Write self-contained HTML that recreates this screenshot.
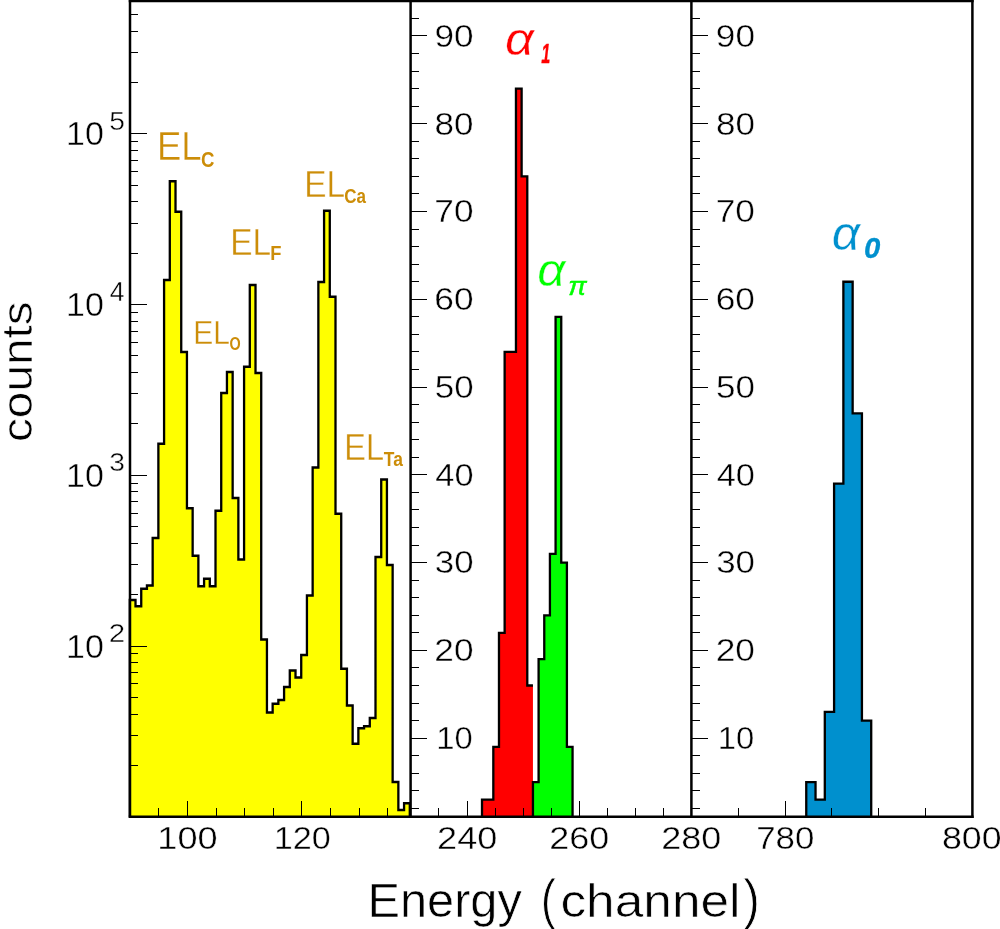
<!DOCTYPE html><html><head><meta charset="utf-8"><title>Energy spectrum</title>
<style>html,body{margin:0;padding:0;background:#fff}svg{display:block}text{font-family:"Liberation Sans",sans-serif;stroke:#fff;stroke-width:0.4px;paint-order:fill stroke}</style></head><body>
<svg width="1000" height="929" viewBox="0 0 1000 929">
<rect width="1000" height="929" fill="#fff"/>
<path d="M129.80,816.70 L129.80,600.00 L135.51,600.00 L135.51,606.25 L141.23,606.25 L141.23,588.75 L146.94,588.75 L146.94,585.50 L152.66,585.50 L152.66,538.00 L158.37,538.00 L158.37,443.75 L164.08,443.75 L164.08,280.00 L169.80,280.00 L169.80,181.25 L175.51,181.25 L175.51,211.75 L181.23,211.75 L181.23,352.00 L186.94,352.00 L186.94,508.25 L192.65,508.25 L192.65,555.75 L198.37,555.75 L198.37,586.25 L204.08,586.25 L204.08,578.75 L209.80,578.75 L209.80,586.25 L215.51,586.25 L215.51,510.75 L221.22,510.75 L221.22,393.00 L226.94,393.00 L226.94,372.00 L232.65,372.00 L232.65,498.00 L238.37,498.00 L238.37,559.50 L244.08,559.50 L244.08,366.75 L249.79,366.75 L249.79,285.00 L255.51,285.00 L255.51,373.00 L261.22,373.00 L261.22,639.50 L266.94,639.50 L266.94,712.50 L272.65,712.50 L272.65,703.75 L278.36,703.75 L278.36,700.00 L284.08,700.00 L284.08,687.00 L289.79,687.00 L289.79,670.50 L295.51,670.50 L295.51,677.50 L301.22,677.50 L301.22,655.00 L306.93,655.00 L306.93,595.50 L312.65,595.50 L312.65,467.50 L318.36,467.50 L318.36,282.00 L324.08,282.00 L324.08,210.75 L329.79,210.75 L329.79,296.75 L335.50,296.75 L335.50,513.75 L341.22,513.75 L341.22,668.75 L346.93,668.75 L346.93,705.50 L352.65,705.50 L352.65,743.75 L358.36,743.75 L358.36,728.25 L364.07,728.25 L364.07,726.25 L369.79,726.25 L369.79,718.00 L375.50,718.00 L375.50,557.00 L381.22,557.00 L381.22,479.50 L386.93,479.50 L386.93,565.00 L392.64,565.00 L392.64,782.00 L398.36,782.00 L398.36,810.00 L404.07,810.00 L404.07,803.25 L409.79,803.25 L409.79,816.70 Z" fill="#ffff00" stroke="none"/>
<path d="M129.80,816.70 L129.80,600.00 L135.51,600.00 L135.51,606.25 L141.23,606.25 L141.23,588.75 L146.94,588.75 L146.94,585.50 L152.66,585.50 L152.66,538.00 L158.37,538.00 L158.37,443.75 L164.08,443.75 L164.08,280.00 L169.80,280.00 L169.80,181.25 L175.51,181.25 L175.51,211.75 L181.23,211.75 L181.23,352.00 L186.94,352.00 L186.94,508.25 L192.65,508.25 L192.65,555.75 L198.37,555.75 L198.37,586.25 L204.08,586.25 L204.08,578.75 L209.80,578.75 L209.80,586.25 L215.51,586.25 L215.51,510.75 L221.22,510.75 L221.22,393.00 L226.94,393.00 L226.94,372.00 L232.65,372.00 L232.65,498.00 L238.37,498.00 L238.37,559.50 L244.08,559.50 L244.08,366.75 L249.79,366.75 L249.79,285.00 L255.51,285.00 L255.51,373.00 L261.22,373.00 L261.22,639.50 L266.94,639.50 L266.94,712.50 L272.65,712.50 L272.65,703.75 L278.36,703.75 L278.36,700.00 L284.08,700.00 L284.08,687.00 L289.79,687.00 L289.79,670.50 L295.51,670.50 L295.51,677.50 L301.22,677.50 L301.22,655.00 L306.93,655.00 L306.93,595.50 L312.65,595.50 L312.65,467.50 L318.36,467.50 L318.36,282.00 L324.08,282.00 L324.08,210.75 L329.79,210.75 L329.79,296.75 L335.50,296.75 L335.50,513.75 L341.22,513.75 L341.22,668.75 L346.93,668.75 L346.93,705.50 L352.65,705.50 L352.65,743.75 L358.36,743.75 L358.36,728.25 L364.07,728.25 L364.07,726.25 L369.79,726.25 L369.79,718.00 L375.50,718.00 L375.50,557.00 L381.22,557.00 L381.22,479.50 L386.93,479.50 L386.93,565.00 L392.64,565.00 L392.64,782.00 L398.36,782.00 L398.36,810.00 L404.07,810.00 L404.07,803.25 L409.79,803.25 L409.79,816.70" fill="none" stroke="#000" stroke-width="2.3" stroke-linejoin="miter"/>
<path d="M482.00,816.70 L482.00,799.64 L487.66,799.64 L487.66,799.64 L493.32,799.64 L493.32,746.97 L498.98,746.97 L498.98,632.85 L504.64,632.85 L504.64,351.96 L510.30,351.96 L510.30,351.96 L515.96,351.96 L515.96,88.62 L521.62,88.62 L521.62,176.40 L527.28,176.40 L527.28,685.52 L532.94,685.52 L532.94,816.70 Z" fill="#ff0000" stroke="none"/>
<path d="M482.00,816.70 L482.00,799.64 L487.66,799.64 L487.66,799.64 L493.32,799.64 L493.32,746.97 L498.98,746.97 L498.98,632.85 L504.64,632.85 L504.64,351.96 L510.30,351.96 L510.30,351.96 L515.96,351.96 L515.96,88.62 L521.62,88.62 L521.62,176.40 L527.28,176.40 L527.28,685.52 L532.94,685.52" fill="none" stroke="#000" stroke-width="2.3" stroke-linejoin="miter"/>
<path d="M532.94,816.70 L532.94,782.08 L538.60,782.08 L538.60,659.19 L544.26,659.19 L544.26,615.30 L549.92,615.30 L549.92,553.85 L555.58,553.85 L555.58,316.85 L561.24,316.85 L561.24,562.63 L566.90,562.63 L566.90,746.97 L572.56,746.97 L572.56,816.70 Z" fill="#00ff00" stroke="none"/>
<path d="M532.94,816.70 L532.94,782.08 L538.60,782.08 L538.60,659.19 L544.26,659.19 L544.26,615.30 L549.92,615.30 L549.92,553.85 L555.58,553.85 L555.58,316.85 L561.24,316.85 L561.24,562.63 L566.90,562.63 L566.90,746.97 L572.56,746.97 L572.56,816.70" fill="none" stroke="#000" stroke-width="2.3" stroke-linejoin="miter"/>
<path d="M806.25,816.70 L806.25,782.08 L815.53,782.08 L815.53,799.64 L824.81,799.64 L824.81,711.86 L834.09,711.86 L834.09,483.63 L843.37,483.63 L843.37,281.73 L852.65,281.73 L852.65,413.40 L861.93,413.40 L861.93,720.63 L871.21,720.63 L871.21,816.70 Z" fill="#0090ce" stroke="none"/>
<path d="M806.25,816.70 L806.25,782.08 L815.53,782.08 L815.53,799.64 L824.81,799.64 L824.81,711.86 L834.09,711.86 L834.09,483.63 L843.37,483.63 L843.37,281.73 L852.65,281.73 L852.65,413.40 L861.93,413.40 L861.93,720.63 L871.21,720.63 L871.21,816.70" fill="none" stroke="#000" stroke-width="2.3" stroke-linejoin="miter"/>
<g stroke="#000" stroke-width="2.5" fill="none" stroke-linecap="square">
<line x1="130.0" y1="1.1" x2="972.4" y2="1.1"/>
<line x1="130.0" y1="816.7" x2="972.4" y2="816.7"/>
<line x1="130.0" y1="1.1" x2="130.0" y2="816.7"/>
<line x1="410.6" y1="1.1" x2="410.6" y2="816.7"/>
<line x1="691.4" y1="1.1" x2="691.4" y2="816.7"/>
<line x1="972.4" y1="1.1" x2="972.4" y2="816.7"/>
</g>
<g stroke="#000" stroke-width="1.0" fill="none" shape-rendering="crispEdges">
<line x1="130.0" y1="765.40" x2="138.0" y2="765.40"/>
<line x1="130.0" y1="735.33" x2="138.0" y2="735.33"/>
<line x1="130.0" y1="714.00" x2="138.0" y2="714.00"/>
<line x1="130.0" y1="697.45" x2="138.0" y2="697.45"/>
<line x1="130.0" y1="683.93" x2="138.0" y2="683.93"/>
<line x1="130.0" y1="672.50" x2="138.0" y2="672.50"/>
<line x1="130.0" y1="662.60" x2="138.0" y2="662.60"/>
<line x1="130.0" y1="653.86" x2="138.0" y2="653.86"/>
<line x1="130.0" y1="646.05" x2="146.5" y2="646.05"/>
<line x1="130.0" y1="594.65" x2="138.0" y2="594.65"/>
<line x1="130.0" y1="564.58" x2="138.0" y2="564.58"/>
<line x1="130.0" y1="543.25" x2="138.0" y2="543.25"/>
<line x1="130.0" y1="526.70" x2="138.0" y2="526.70"/>
<line x1="130.0" y1="513.18" x2="138.0" y2="513.18"/>
<line x1="130.0" y1="501.75" x2="138.0" y2="501.75"/>
<line x1="130.0" y1="491.85" x2="138.0" y2="491.85"/>
<line x1="130.0" y1="483.11" x2="138.0" y2="483.11"/>
<line x1="130.0" y1="475.30" x2="146.5" y2="475.30"/>
<line x1="130.0" y1="423.90" x2="138.0" y2="423.90"/>
<line x1="130.0" y1="393.83" x2="138.0" y2="393.83"/>
<line x1="130.0" y1="372.50" x2="138.0" y2="372.50"/>
<line x1="130.0" y1="355.95" x2="138.0" y2="355.95"/>
<line x1="130.0" y1="342.43" x2="138.0" y2="342.43"/>
<line x1="130.0" y1="331.00" x2="138.0" y2="331.00"/>
<line x1="130.0" y1="321.10" x2="138.0" y2="321.10"/>
<line x1="130.0" y1="312.36" x2="138.0" y2="312.36"/>
<line x1="130.0" y1="304.55" x2="146.5" y2="304.55"/>
<line x1="130.0" y1="253.15" x2="138.0" y2="253.15"/>
<line x1="130.0" y1="223.08" x2="138.0" y2="223.08"/>
<line x1="130.0" y1="201.75" x2="138.0" y2="201.75"/>
<line x1="130.0" y1="185.20" x2="138.0" y2="185.20"/>
<line x1="130.0" y1="171.68" x2="138.0" y2="171.68"/>
<line x1="130.0" y1="160.25" x2="138.0" y2="160.25"/>
<line x1="130.0" y1="150.35" x2="138.0" y2="150.35"/>
<line x1="130.0" y1="141.61" x2="138.0" y2="141.61"/>
<line x1="130.0" y1="133.80" x2="146.5" y2="133.80"/>
<line x1="130.0" y1="82.40" x2="138.0" y2="82.40"/>
<line x1="130.0" y1="52.33" x2="138.0" y2="52.33"/>
<line x1="130.0" y1="31.00" x2="138.0" y2="31.00"/>
<line x1="130.0" y1="14.45" x2="138.0" y2="14.45"/>
<line x1="158.90" y1="816.7" x2="158.90" y2="808.2"/>
<line x1="187.50" y1="816.7" x2="187.50" y2="801.2"/>
<line x1="216.10" y1="816.7" x2="216.10" y2="808.2"/>
<line x1="244.70" y1="816.7" x2="244.70" y2="808.2"/>
<line x1="273.30" y1="816.7" x2="273.30" y2="808.2"/>
<line x1="301.90" y1="816.7" x2="301.90" y2="801.2"/>
<line x1="330.50" y1="816.7" x2="330.50" y2="808.2"/>
<line x1="359.10" y1="816.7" x2="359.10" y2="808.2"/>
<line x1="387.70" y1="816.7" x2="387.70" y2="808.2"/>
<line x1="438.97" y1="816.7" x2="438.97" y2="808.2"/>
<line x1="467.05" y1="816.7" x2="467.05" y2="801.2"/>
<line x1="495.12" y1="816.7" x2="495.12" y2="808.2"/>
<line x1="523.20" y1="816.7" x2="523.20" y2="808.2"/>
<line x1="551.27" y1="816.7" x2="551.27" y2="808.2"/>
<line x1="579.35" y1="816.7" x2="579.35" y2="801.2"/>
<line x1="607.42" y1="816.7" x2="607.42" y2="808.2"/>
<line x1="635.50" y1="816.7" x2="635.50" y2="808.2"/>
<line x1="663.58" y1="816.7" x2="663.58" y2="808.2"/>
<line x1="738.20" y1="816.7" x2="738.20" y2="808.2"/>
<line x1="785.00" y1="816.7" x2="785.00" y2="801.2"/>
<line x1="831.80" y1="816.7" x2="831.80" y2="808.2"/>
<line x1="878.60" y1="816.7" x2="878.60" y2="808.2"/>
<line x1="925.40" y1="816.7" x2="925.40" y2="808.2"/>
<line x1="410.6" y1="808.41" x2="419.1" y2="808.41"/>
<line x1="410.6" y1="790.86" x2="419.1" y2="790.86"/>
<line x1="410.6" y1="773.30" x2="419.1" y2="773.30"/>
<line x1="410.6" y1="755.75" x2="419.1" y2="755.75"/>
<line x1="410.6" y1="738.19" x2="426.90000000000003" y2="738.19"/>
<line x1="410.6" y1="720.63" x2="419.1" y2="720.63"/>
<line x1="410.6" y1="703.08" x2="419.1" y2="703.08"/>
<line x1="410.6" y1="685.52" x2="419.1" y2="685.52"/>
<line x1="410.6" y1="667.97" x2="419.1" y2="667.97"/>
<line x1="410.6" y1="650.41" x2="426.90000000000003" y2="650.41"/>
<line x1="410.6" y1="632.85" x2="419.1" y2="632.85"/>
<line x1="410.6" y1="615.30" x2="419.1" y2="615.30"/>
<line x1="410.6" y1="597.74" x2="419.1" y2="597.74"/>
<line x1="410.6" y1="580.19" x2="419.1" y2="580.19"/>
<line x1="410.6" y1="562.63" x2="426.90000000000003" y2="562.63"/>
<line x1="410.6" y1="545.07" x2="419.1" y2="545.07"/>
<line x1="410.6" y1="527.52" x2="419.1" y2="527.52"/>
<line x1="410.6" y1="509.96" x2="419.1" y2="509.96"/>
<line x1="410.6" y1="492.41" x2="419.1" y2="492.41"/>
<line x1="410.6" y1="474.85" x2="426.90000000000003" y2="474.85"/>
<line x1="410.6" y1="457.29" x2="419.1" y2="457.29"/>
<line x1="410.6" y1="439.74" x2="419.1" y2="439.74"/>
<line x1="410.6" y1="422.18" x2="419.1" y2="422.18"/>
<line x1="410.6" y1="404.63" x2="419.1" y2="404.63"/>
<line x1="410.6" y1="387.07" x2="426.90000000000003" y2="387.07"/>
<line x1="410.6" y1="369.51" x2="419.1" y2="369.51"/>
<line x1="410.6" y1="351.96" x2="419.1" y2="351.96"/>
<line x1="410.6" y1="334.40" x2="419.1" y2="334.40"/>
<line x1="410.6" y1="316.85" x2="419.1" y2="316.85"/>
<line x1="410.6" y1="299.29" x2="426.90000000000003" y2="299.29"/>
<line x1="410.6" y1="281.73" x2="419.1" y2="281.73"/>
<line x1="410.6" y1="264.18" x2="419.1" y2="264.18"/>
<line x1="410.6" y1="246.62" x2="419.1" y2="246.62"/>
<line x1="410.6" y1="229.07" x2="419.1" y2="229.07"/>
<line x1="410.6" y1="211.51" x2="426.90000000000003" y2="211.51"/>
<line x1="410.6" y1="193.95" x2="419.1" y2="193.95"/>
<line x1="410.6" y1="176.40" x2="419.1" y2="176.40"/>
<line x1="410.6" y1="158.84" x2="419.1" y2="158.84"/>
<line x1="410.6" y1="141.29" x2="419.1" y2="141.29"/>
<line x1="410.6" y1="123.73" x2="426.90000000000003" y2="123.73"/>
<line x1="410.6" y1="106.17" x2="419.1" y2="106.17"/>
<line x1="410.6" y1="88.62" x2="419.1" y2="88.62"/>
<line x1="410.6" y1="71.06" x2="419.1" y2="71.06"/>
<line x1="410.6" y1="53.51" x2="419.1" y2="53.51"/>
<line x1="410.6" y1="35.95" x2="426.90000000000003" y2="35.95"/>
<line x1="410.6" y1="18.39" x2="419.1" y2="18.39"/>
<line x1="691.4" y1="808.41" x2="699.9" y2="808.41"/>
<line x1="691.4" y1="790.86" x2="699.9" y2="790.86"/>
<line x1="691.4" y1="773.30" x2="699.9" y2="773.30"/>
<line x1="691.4" y1="755.75" x2="699.9" y2="755.75"/>
<line x1="691.4" y1="738.19" x2="707.6999999999999" y2="738.19"/>
<line x1="691.4" y1="720.63" x2="699.9" y2="720.63"/>
<line x1="691.4" y1="703.08" x2="699.9" y2="703.08"/>
<line x1="691.4" y1="685.52" x2="699.9" y2="685.52"/>
<line x1="691.4" y1="667.97" x2="699.9" y2="667.97"/>
<line x1="691.4" y1="650.41" x2="707.6999999999999" y2="650.41"/>
<line x1="691.4" y1="632.85" x2="699.9" y2="632.85"/>
<line x1="691.4" y1="615.30" x2="699.9" y2="615.30"/>
<line x1="691.4" y1="597.74" x2="699.9" y2="597.74"/>
<line x1="691.4" y1="580.19" x2="699.9" y2="580.19"/>
<line x1="691.4" y1="562.63" x2="707.6999999999999" y2="562.63"/>
<line x1="691.4" y1="545.07" x2="699.9" y2="545.07"/>
<line x1="691.4" y1="527.52" x2="699.9" y2="527.52"/>
<line x1="691.4" y1="509.96" x2="699.9" y2="509.96"/>
<line x1="691.4" y1="492.41" x2="699.9" y2="492.41"/>
<line x1="691.4" y1="474.85" x2="707.6999999999999" y2="474.85"/>
<line x1="691.4" y1="457.29" x2="699.9" y2="457.29"/>
<line x1="691.4" y1="439.74" x2="699.9" y2="439.74"/>
<line x1="691.4" y1="422.18" x2="699.9" y2="422.18"/>
<line x1="691.4" y1="404.63" x2="699.9" y2="404.63"/>
<line x1="691.4" y1="387.07" x2="707.6999999999999" y2="387.07"/>
<line x1="691.4" y1="369.51" x2="699.9" y2="369.51"/>
<line x1="691.4" y1="351.96" x2="699.9" y2="351.96"/>
<line x1="691.4" y1="334.40" x2="699.9" y2="334.40"/>
<line x1="691.4" y1="316.85" x2="699.9" y2="316.85"/>
<line x1="691.4" y1="299.29" x2="707.6999999999999" y2="299.29"/>
<line x1="691.4" y1="281.73" x2="699.9" y2="281.73"/>
<line x1="691.4" y1="264.18" x2="699.9" y2="264.18"/>
<line x1="691.4" y1="246.62" x2="699.9" y2="246.62"/>
<line x1="691.4" y1="229.07" x2="699.9" y2="229.07"/>
<line x1="691.4" y1="211.51" x2="707.6999999999999" y2="211.51"/>
<line x1="691.4" y1="193.95" x2="699.9" y2="193.95"/>
<line x1="691.4" y1="176.40" x2="699.9" y2="176.40"/>
<line x1="691.4" y1="158.84" x2="699.9" y2="158.84"/>
<line x1="691.4" y1="141.29" x2="699.9" y2="141.29"/>
<line x1="691.4" y1="123.73" x2="707.6999999999999" y2="123.73"/>
<line x1="691.4" y1="106.17" x2="699.9" y2="106.17"/>
<line x1="691.4" y1="88.62" x2="699.9" y2="88.62"/>
<line x1="691.4" y1="71.06" x2="699.9" y2="71.06"/>
<line x1="691.4" y1="53.51" x2="699.9" y2="53.51"/>
<line x1="691.4" y1="35.95" x2="707.6999999999999" y2="35.95"/>
<line x1="691.4" y1="18.39" x2="699.9" y2="18.39"/>
</g>
<text transform="translate(157.29,848.88) scale(1.1375,1)" font-size="31.80">100</text>
<text transform="translate(273.68,848.88) scale(1.0768,1)" font-size="31.80">120</text>
<text transform="translate(437.09,848.88) scale(1.1364,1)" font-size="31.80">240</text>
<text transform="translate(549.30,848.88) scale(1.1304,1)" font-size="31.80">260</text>
<text transform="translate(661.20,848.88) scale(1.1344,1)" font-size="31.80">280</text>
<text transform="translate(756.16,848.88) scale(1.0966,1)" font-size="31.80">780</text>
<text transform="translate(941.98,848.88) scale(1.1251,1)" font-size="31.80">800</text>
<text transform="translate(436.29,748.98) scale(1.0463,1)" font-size="31.38">10</text>
<text transform="translate(717.69,748.98) scale(1.0463,1)" font-size="31.38">10</text>
<text transform="translate(434.33,661.20) scale(1.1252,1)" font-size="31.38">20</text>
<text transform="translate(715.73,661.20) scale(1.1252,1)" font-size="31.38">20</text>
<text transform="translate(434.79,573.42) scale(1.1116,1)" font-size="31.38">30</text>
<text transform="translate(716.19,573.42) scale(1.1116,1)" font-size="31.38">30</text>
<text transform="translate(435.33,485.64) scale(1.0957,1)" font-size="31.38">40</text>
<text transform="translate(716.73,485.64) scale(1.0957,1)" font-size="31.38">40</text>
<text transform="translate(434.70,397.86) scale(1.1143,1)" font-size="31.38">50</text>
<text transform="translate(716.10,397.86) scale(1.1143,1)" font-size="31.38">50</text>
<text transform="translate(434.33,310.08) scale(1.1252,1)" font-size="31.38">60</text>
<text transform="translate(715.73,310.08) scale(1.1252,1)" font-size="31.38">60</text>
<text transform="translate(434.33,222.30) scale(1.1252,1)" font-size="31.38">70</text>
<text transform="translate(715.73,222.30) scale(1.1252,1)" font-size="31.38">70</text>
<text transform="translate(434.61,134.52) scale(1.1170,1)" font-size="31.38">80</text>
<text transform="translate(716.01,134.52) scale(1.1170,1)" font-size="31.38">80</text>
<text transform="translate(434.43,46.74) scale(1.1224,1)" font-size="31.38">90</text>
<text transform="translate(715.83,46.74) scale(1.1224,1)" font-size="31.38">90</text>
<text transform="translate(66.05,657.52) scale(1.0409,1)" font-size="32.65">10</text>
<text transform="translate(108.83,642.25) scale(1.1164,1)" font-size="26.38">2</text>
<text transform="translate(66.05,486.77) scale(1.0409,1)" font-size="32.65">10</text>
<text transform="translate(109.24,471.24) scale(1.0847,1)" font-size="26.01">3</text>
<text transform="translate(66.05,316.02) scale(1.0409,1)" font-size="32.65">10</text>
<text transform="translate(109.70,300.75) scale(0.9914,1)" font-size="26.76">4</text>
<text transform="translate(66.05,145.27) scale(1.0409,1)" font-size="32.65">10</text>
<text transform="translate(109.17,129.74) scale(1.0694,1)" font-size="26.38">5</text>
<text transform="translate(367.38,917.30) scale(1.0158,1)" font-size="48.00" style="stroke-width:0.6px">Energy</text>
<text transform="translate(540.85,918.36) scale(0.8284,1)" font-size="55.12" style="stroke-width:0.9px">(</text>
<text transform="translate(560.42,917.30) scale(1.1294,1)" font-size="45.52" style="stroke-width:0.6px">channel</text>
<text transform="translate(743.32,918.36) scale(0.9105,1)" font-size="55.12" style="stroke-width:0.9px">)</text>
<text transform="translate(31.7,442.03) rotate(-90) scale(1.1446,1)" font-size="41.71" style="stroke-width:0.6px">counts</text>
<text transform="translate(156.98,160.00) scale(0.8821,1)" font-size="41.45" fill="#cc8d08">EL</text>
<text transform="translate(201.05,166.58) scale(0.8340,1)" font-size="22.33" font-weight="bold" style="stroke:none" fill="#cc8d08">C</text>
<text transform="translate(304.24,196.80) scale(0.8972,1)" font-size="37.24" fill="#cc8d08">EL</text>
<text transform="translate(344.32,202.60) scale(0.8730,1)" font-size="19.51" font-weight="bold" style="stroke:none" fill="#cc8d08">Ca</text>
<text transform="translate(230.24,254.80) scale(0.8972,1)" font-size="37.24" fill="#cc8d08">EL</text>
<text transform="translate(270.26,259.80) scale(0.9473,1)" font-size="19.35" font-weight="bold" style="stroke:none" fill="#cc8d08">F</text>
<text transform="translate(193.33,344.20) scale(0.8883,1)" font-size="33.75" fill="#cc8d08">EL</text>
<text transform="translate(229.42,349.62) scale(0.7831,1)" font-size="18.37" font-weight="bold" style="stroke:none" fill="#cc8d08">O</text>
<text transform="translate(344.32,459.80) scale(0.8730,1)" font-size="37.24" fill="#cc8d08">EL</text>
<text transform="translate(383.83,465.80) scale(0.8810,1)" font-size="19.78" font-weight="bold" style="stroke:none" fill="#cc8d08">Ta</text>
<text transform="translate(505.12,54.73) scale(1.0856,1)" font-size="46.76" font-style="italic" fill="#ff0000">α</text>
<text transform="translate(541.35,63.20) scale(0.5876,1)" font-size="27.93" font-style="italic" font-weight="bold" style="stroke:#ff0000;stroke-width:0.3px" fill="#ff0000">1</text>
<text transform="translate(537.17,286.33) scale(1.0550,1)" font-size="46.76" font-style="italic" fill="#00ff00">α</text>
<text transform="translate(568.36,295.04) scale(1.0483,1)" font-size="26.23" font-style="italic" fill="#00ff00" style="stroke:#00ff00;stroke-width:0.5px">π</text>
<text transform="translate(831.76,249.53) scale(1.0503,1)" font-size="47.31" font-style="italic" fill="#0090ce">α</text>
<text transform="translate(863.95,258.21) scale(1.0114,1)" font-size="28.98" font-style="italic" font-weight="bold" style="stroke:#0090ce;stroke-width:0.3px" fill="#0090ce">0</text>
</svg></body></html>
